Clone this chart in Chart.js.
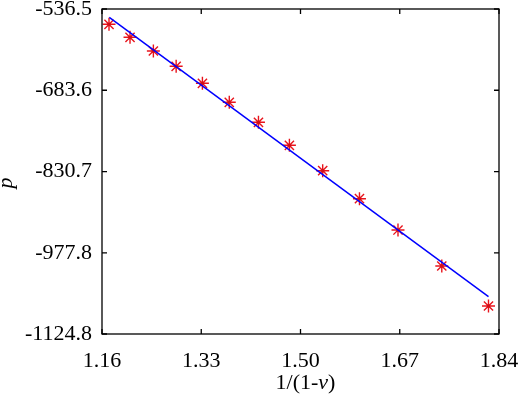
<!DOCTYPE html>
<html><head><meta charset="utf-8">
<script src="https://cdn.jsdelivr.net/npm/chart.js@4"></script>
<style>html,body{margin:0;padding:0;background:#fff;}#wrap{width:520px;height:400px;position:relative;}</style>
</head><body><div id="wrap"><canvas id="c"></canvas></div>
<script>
// data
const xValues = [1.172, 1.208, 1.248, 1.287, 1.332, 1.378, 1.428, 1.481, 1.538, 1.601, 1.667, 1.742, 1.822];
const pValues = [-564.2, -587.7, -612.5, -640.2, -671.0, -705.4, -741.6, -783.2, -829.2, -879.9, -936.6, -1001.7, -1074.1];
const fitX = [1.1725, 1.822];
const fitP = [-551.5, -1057.3];
const xTicks = [1.16, 1.33, 1.50, 1.67, 1.84];
const yTicks = [-536.5, -683.6, -830.7, -977.8, -1124.8];
const xTitleParts = [["1/(1-", false], ["v", true], [")", false]];
const yTitle = "p";

const FONT = "'Liberation Serif', 'Times New Roman', serif";
const FS = 22;

const pts = xValues.map((x, i) => ({x: x, y: pValues[i]}));
const fitPts = fitX.map((x, i) => ({x: x, y: fitP[i]}));

const framePlugin = {
  id: 'frame',
  afterDraw(chart) {
    const ctx = chart.ctx;
    const a = chart.chartArea;
    const xs = chart.scales.x, ys = chart.scales.y;
    ctx.save();
    ctx.strokeStyle = '#000';
    ctx.lineWidth = 1.3;
    ctx.strokeRect(a.left, a.top, a.right - a.left, a.bottom - a.top);
    const tl = 5;
    ctx.beginPath();
    xTicks.forEach(v => {
      const px = xs.getPixelForValue(v);
      ctx.moveTo(px, a.bottom); ctx.lineTo(px, a.bottom - tl);
      ctx.moveTo(px, a.top); ctx.lineTo(px, a.top + tl);
    });
    yTicks.forEach(v => {
      const py = ys.getPixelForValue(v);
      ctx.moveTo(a.left, py); ctx.lineTo(a.left + tl, py);
      ctx.moveTo(a.right, py); ctx.lineTo(a.right - tl, py);
    });
    ctx.stroke();
    // x axis title with italic v
    ctx.fillStyle = '#000';
    ctx.textBaseline = 'alphabetic';
    ctx.textAlign = 'left';
    let total = 0;
    const widths = xTitleParts.map(([t, it]) => {
      ctx.font = (it ? 'italic ' : '') + FS + 'px ' + FONT;
      const w = ctx.measureText(t).width; total += w; return w;
    });
    let cx = (a.left + a.right) / 2 + 5 - total / 2;
    xTitleParts.forEach(([t, it], i) => {
      ctx.font = (it ? 'italic ' : '') + FS + 'px ' + FONT;
      ctx.fillText(t, cx, 389);
      cx += widths[i];
    });
    // y axis title
    ctx.translate(12, 183);
    ctx.rotate(-Math.PI / 2);
    ctx.font = 'italic ' + FS + 'px ' + FONT;
    ctx.textAlign = 'center';
    ctx.fillText(yTitle, 0, 0);
    ctx.restore();
  }
};

new Chart(document.getElementById('c'), {
  type: 'scatter',
  data: {
    datasets: [
      {
        data: fitPts, showLine: true, borderColor: '#0000ff', borderWidth: 1.5,
        pointRadius: 0, fill: false, order: 0
      },
      {
        data: pts, showLine: false, pointStyle: 'star', pointRadius: 6.5,
        borderColor: '#e8141c', borderWidth: 1.4, order: 2
      },
      {
        data: pts, showLine: false, pointStyle: 'circle', pointRadius: 1.6,
        backgroundColor: '#d0101a', borderWidth: 0, order: 1
      }
    ]
  },
  options: {
    responsive: true, maintainAspectRatio: false, animation: false,
    events: [],
    layout: {padding: {top: 9, right: 21, bottom: 0, left: 0}},
    plugins: {legend: {display: false}, tooltip: {enabled: false}},
    scales: {
      x: {
        type: 'linear', min: 1.16, max: 1.84,
        grid: {display: false, drawTicks: false},
        border: {display: false},
        afterBuildTicks: s => { s.ticks = xTicks.map(v => ({value: v})); },
        afterFit: s => { s.height = 66; s.paddingLeft = 0; s.paddingRight = 0; },
        ticks: {
          font: {family: FONT, size: FS}, color: '#000', padding: 14,
          maxRotation: 0, autoSkip: false,
          callback: v => Number(v).toFixed(2)
        }
      },
      y: {
        type: 'linear', min: -1124.8, max: -536.5,
        grid: {display: false, drawTicks: false},
        border: {display: false},
        afterBuildTicks: s => { s.ticks = yTicks.map(v => ({value: v})); },
        afterFit: s => { s.width = 102; s.paddingTop = 0; s.paddingBottom = 0; },
        ticks: {
          font: {family: FONT, size: FS}, color: '#000', padding: 10,
          autoSkip: false,
          callback: v => Number(v).toFixed(1)
        }
      }
    }
  },
  plugins: [framePlugin]
});
</script>
</body></html>
